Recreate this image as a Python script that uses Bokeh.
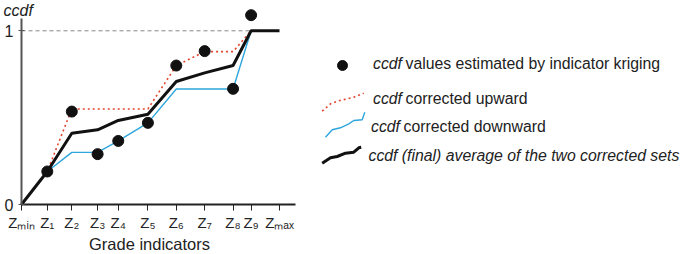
from bokeh.plotting import figure
from bokeh.models import LinearAxis, FixedTicker, Range1d
from bokeh.core.properties import value
from bokeh.embed import file_html
from bokeh.resources import INLINE

# ---- data ----
grade = [0, 1, 1.95, 2.95, 3.75, 4.9, 6.0, 7.1, 8.2, 8.9, 10.0]
grade_labels = ["Zₘᵢₙ", "Z₁", "Z₂", "Z₃", "Z₄", "Z₅", "Z₆", "Z₇", "Z₈", "Z₉", "Zₘₐₓ"]
ik_values = [0.19, 0.535, 0.29, 0.366, 0.47, 0.80, 0.883, 0.666, 1.09]          # z1..z9
upward = [0.0, 0.19, 0.55, 0.55, 0.55, 0.55, 0.80, 0.88, 0.88, 1.0]             # zmin..z9
downward = [0.0, 0.19, 0.30, 0.30, 0.366, 0.47, 0.665, 0.665, 0.665, 1.0]       # zmin..z9
final = [0.0, 0.19, 0.41, 0.43, 0.484, 0.52, 0.708, 0.758, 0.80, 1.0, 1.0]      # zmin..zmax
legend_texts = ["values estimated by indicator kriging", "corrected upward",
                "corrected downward", "ccdf (final) average of the two corrected sets"]

W, H = 685, 254
X0, SX = 21.0, 25.8      # pixel of grade 0, pixels per grade unit
Y0, SY = 204.0, 173.7    # pixel of ccdf 0, pixels per ccdf unit


def dx(px):
    return (px - X0) / SX


def dy(py):
    return (Y0 - py) / SY


p = figure(width=W, height=H, output_backend="svg", toolbar_location=None,
           x_axis_location=None, y_axis_location=None, title=None,
           x_range=Range1d(dx(0), dx(W)), y_range=Range1d(dy(H), dy(0)),
           min_border=0, min_border_left=0, min_border_right=0,
           min_border_top=0, min_border_bottom=0)
p.grid.visible = False
p.outline_line_color = None
p.background_fill_color = "white"
p.border_fill_color = "white"

FONT = "Liberation Sans"
RED = "#e5442e"
BLUE = "#2ea6dc"

# axes
xaxis = LinearAxis(fixed_location=0, bounds=(0, dx(295)),
                   ticker=FixedTicker(ticks=grade),
                   major_label_overrides={g: l for g, l in zip(grade, grade_labels)})
xaxis.axis_line_color = "#222222"
xaxis.axis_line_width = 2
xaxis.major_tick_in = 0
xaxis.major_tick_out = 6
xaxis.major_tick_line_color = "#222222"
xaxis.minor_tick_line_color = None
xaxis.major_label_standoff = 3
xaxis.major_label_text_font = FONT
xaxis.major_label_text_font_size = "15px"
xaxis.major_label_text_color = "#222222"
p.add_layout(xaxis, "below")

# x axis title
p.text(x=[dx(149)], y=[dy(243)], text=["Grade indicators"], text_font=value(FONT),
       text_font_size="16.5px", text_color="#222222",
       text_align="center", text_baseline="middle")

yaxis = LinearAxis(fixed_location=0, bounds=(0, dy(18)),
                   ticker=FixedTicker(ticks=[0, 1]))
yaxis.axis_line_color = "#555555"
yaxis.axis_line_width = 2
yaxis.major_tick_in = 3
yaxis.major_tick_out = 3
yaxis.major_tick_line_color = "#555555"
yaxis.minor_tick_line_color = None
yaxis.major_label_standoff = 5
yaxis.major_label_text_font = FONT
yaxis.major_label_text_font_size = "16px"
yaxis.major_label_text_color = "#222222"
p.add_layout(yaxis, "left")

# y axis title
p.text(x=[dx(3)], y=[dy(10)], text=["ccdf"], text_font=value(FONT),
       text_font_style="italic", text_font_size="16px", text_color="#222222",
       text_align="left", text_baseline="middle")

# reference dashed line at 1
p.line([grade[0], grade[9]], [1, 1], line_color="#888888", line_width=1, line_dash="4 3")

# series
p.line(grade[:10], downward, line_color=BLUE, line_width=1.4)
p.line(grade[:10], upward, line_color=RED, line_width=1.6, line_dash="2 3")
p.line(grade, final, line_color="#111111", line_width=3)
p.scatter(grade[1:10], ik_values, size=11, fill_color="#111111", line_color="#111111")

# ---- legend ----
TXT = "#222222"
FS = "15.8px"
# item 1: dot
p.scatter([dx(342)], [dy(65)], size=10, fill_color="#111111", line_color="#111111")
p.text(x=[dx(372.5)], y=[dy(63)], text=["ccdf"], text_font=value(FONT), text_font_style="italic",
       text_font_size=FS, text_color=TXT, text_baseline="middle")
p.text(x=[dx(405)], y=[dy(63)], text=[legend_texts[0]], text_font=value(FONT),
       text_font_size=FS, text_color=TXT, text_baseline="middle")
# item 2: red
rx = [321.7, 330, 336.7, 346.7, 353.3, 363.3]
ry = [110.7, 103.3, 100.7, 98.3, 96.7, 92.7]
p.line([dx(v) for v in rx], [dy(v) for v in ry], line_color=RED, line_width=1.6, line_dash="2 3")
p.text(x=[dx(372.5)], y=[dy(98)], text=["ccdf"], text_font=value(FONT), text_font_style="italic",
       text_font_size=FS, text_color=TXT, text_baseline="middle")
p.text(x=[dx(405)], y=[dy(98)], text=[legend_texts[1]], text_font=value(FONT),
       text_font_size=FS, text_color=TXT, text_baseline="middle")
# item 3: blue
bx = [325, 331.7, 340, 348.3, 353.3, 361.7, 364.3]
by = [136.7, 129.3, 127.3, 123.3, 120, 119.3, 111.7]
p.line([dx(v) for v in bx], [dy(v) for v in by], line_color=BLUE, line_width=1.4)
p.text(x=[dx(370.5)], y=[dy(126)], text=["ccdf"], text_font=value(FONT), text_font_style="italic",
       text_font_size=FS, text_color=TXT, text_baseline="middle")
p.text(x=[dx(403)], y=[dy(126)], text=[legend_texts[2]], text_font=value(FONT),
       text_font_size=FS, text_color=TXT, text_baseline="middle")
# item 4: black
kx = [321.7, 330, 336.7, 345, 353.3, 358.3, 360.7]
ky = [162.7, 157.3, 156, 152.7, 151.7, 147.3, 146.7]
p.line([dx(v) for v in kx], [dy(v) for v in ky], line_color="#111111", line_width=3)
p.text(x=[dx(368)], y=[dy(155)], text=[legend_texts[3]], text_font=value(FONT),
       text_font_style="italic", text_font_size=FS, text_color=TXT, text_baseline="middle")

open("out.html", "w").write(file_html(p, INLINE))
